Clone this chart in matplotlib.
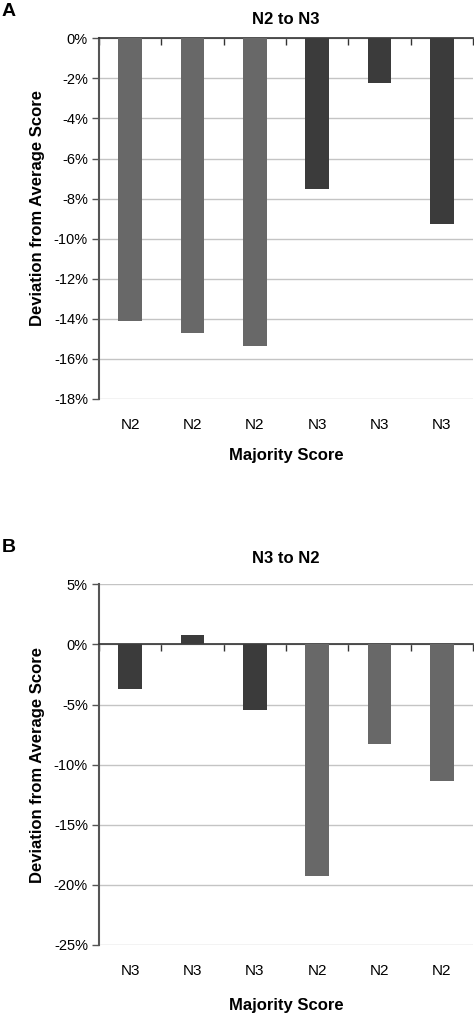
import matplotlib
matplotlib.use("Agg")
import matplotlib.pyplot as plt
import numpy as np
from matplotlib.ticker import FixedLocator, FuncFormatter
from matplotlib import font_manager

# data
labels_a = ["N2", "N2", "N2", "N3", "N3", "N3"]
values_a = [-14.1, -14.7, -15.35, -7.5, -2.23, -9.28]
labels_b = ["N3", "N3", "N3", "N2", "N2", "N2"]
values_b = [-3.72, 0.75, -5.43, -19.3, -8.25, -11.35]

colors = {"N2": "#686868", "N3": "#3b3b3b"}

names = {f.name for f in font_manager.fontManager.ttflist}
narrow = "Liberation Sans Narrow" if "Liberation Sans Narrow" in names else "Liberation Sans"
plt.rcParams["font.family"] = [narrow, "DejaVu Sans"]

fig = plt.figure(figsize=(4.74, 10.15), dpi=100)
ax_a = fig.add_axes([0.2089, 0.6069, 0.789, 0.3554])
ax_b = fig.add_axes([0.2089, 0.0690, 0.789, 0.3553])


def draw_panel(ax, labels, values, ylim, step, title, title_y, ylab_y, xlab_pad):
    x = np.arange(len(values))
    ax.bar(x, values, width=0.38, color=[colors[l] for l in labels], zorder=3)
    ax.set_xlim(-0.5, len(values) - 0.5)
    ax.set_ylim(*ylim)
    yt = np.arange(ylim[0], ylim[1] + step / 2, step)
    ax.set_yticks(yt)
    ax.yaxis.set_major_formatter(FuncFormatter(lambda v, p: f"{v:.0f}%"))
    ax.grid(axis="y", color="#c4c4c4", linewidth=1.0, zorder=0)
    ax.set_axisbelow(True)

    # category labels at the bottom, zero line with boundary ticks
    ax.set_xticks(x)
    ax.set_xticklabels(labels)
    ax.xaxis.set_minor_locator(FixedLocator(np.arange(len(values) + 1) - 0.5))
    ax.tick_params(axis="x", which="major", length=0, pad=14, labelsize=11)
    ax.tick_params(axis="x", which="minor", top=True, bottom=False,
                   direction="in", length=5, width=1.0, color="#333333")
    ax.tick_params(axis="y", length=5, width=1.0, color="#555555", labelsize=10.5, pad=3)
    ax.spines["top"].set_position(("data", 0))
    ax.spines["top"].set_color("#333333")
    ax.spines["top"].set_linewidth(1.2)
    ax.spines["left"].set_color("#555555")
    ax.spines["left"].set_linewidth(1.5)
    ax.spines["bottom"].set_visible(False)
    ax.spines["right"].set_visible(False)

    ax.set_title(title, fontsize=12, fontweight="bold", pad=0, y=title_y)
    ax.set_xlabel("Majority Score", fontsize=12, fontweight="bold", labelpad=xlab_pad)
    ax.set_ylabel("Deviation from Average Score", fontsize=12, fontweight="bold")
    ax.yaxis.set_label_coords(-0.145, ylab_y)


draw_panel(ax_a, labels_a, values_a, (-18, 0), 2, "N2 to N3", 1.04, 0.53, 11)
draw_panel(ax_b, labels_b, values_b, (-25, 5), 5, "N3 to N2", 1.06, 0.50, 14)

fig.text(0.004, 0.989, "A", fontsize=14, fontweight="bold", va="center", ha="left")
fig.text(0.004, 0.461, "B", fontsize=14, fontweight="bold", va="center", ha="left")

fig.savefig("out.png", dpi=100)
